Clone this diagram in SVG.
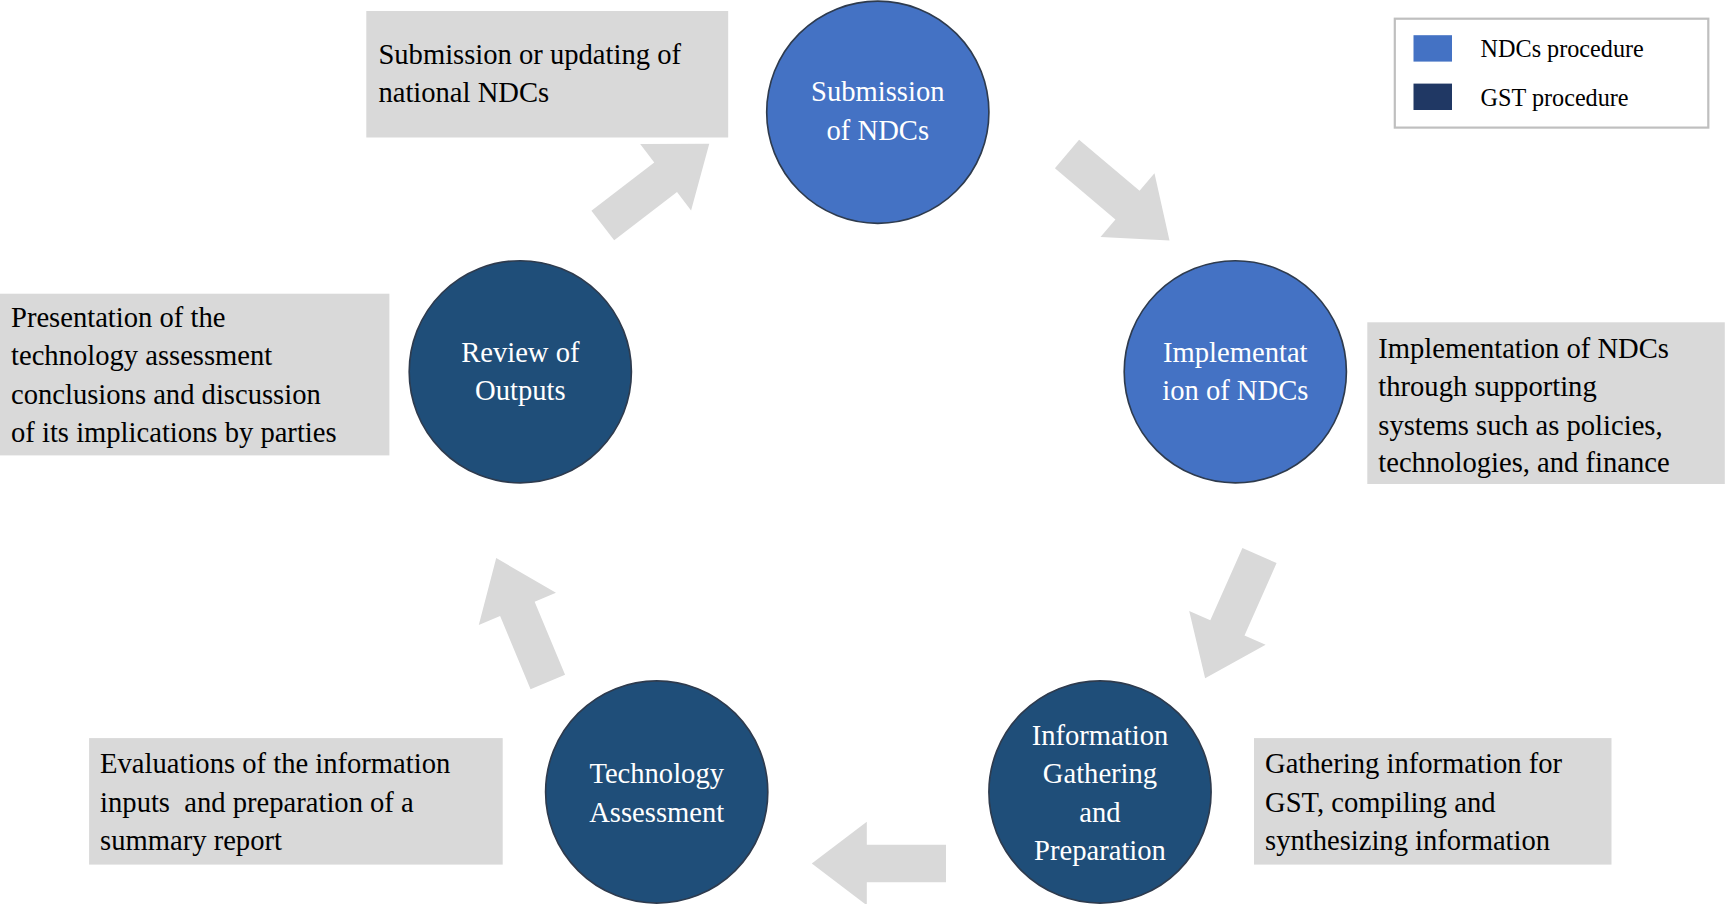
<svg xmlns="http://www.w3.org/2000/svg" width="1725" height="904" viewBox="0 0 1725 904">
<style>
.c{stroke:#2e3b4e;stroke-width:1.5}
.n{fill:#4472C4}.g{fill:#1F4E79}
.b{fill:#D9D9D9}
text{font-family:"Liberation Serif",serif;font-size:26px;fill:#000}
.w{fill:#fff;text-anchor:middle}
.l{font-size:22px}
</style>
<defs><path id="ar" d="M0,-17 L72,-17 L72,-38 L122,0 L72,38 L72,17 L0,17 Z" fill="#D9D9D9"/></defs>
<rect width="1725" height="904" fill="#fff"/>
<g transform="scale(1.1)">
<g id="connectors">
<use href="#ar" transform="translate(548,205) rotate(-37.5)"/>
<use href="#ar" transform="translate(970,140) rotate(40.2)"/>
<use href="#ar" transform="translate(1145,505) rotate(113.9)"/>
<use href="#ar" transform="translate(860,785) rotate(180)"/>
<use href="#ar" transform="translate(498,620) rotate(247.4)"/>
</g>
<g id="n1"><circle class="c n" cx="798" cy="102" r="101"/><text class="w" x="798" y="92">Submission</text><text class="w" x="798" y="127">of NDCs</text></g>
<g id="n2"><circle class="c n" cx="1123" cy="338" r="101"/><text class="w" x="1123" y="329">Implementat</text><text class="w" x="1123" y="364">ion of NDCs</text></g>
<g id="n3"><circle class="c g" cx="1000" cy="720" r="101"/><text class="w" x="1000" y="677">Information</text><text class="w" x="1000" y="712">Gathering</text><text class="w" x="1000" y="747">and</text><text class="w" x="1000" y="782">Preparation</text></g>
<g id="n4"><circle class="c g" cx="597" cy="720" r="101"/><text class="w" x="597" y="712">Technology</text><text class="w" x="597" y="747">Assessment</text></g>
<g id="n5"><circle class="c g" cx="473" cy="338" r="101"/><text class="w" x="473" y="329">Review of</text><text class="w" x="473" y="364">Outputs</text></g>
<g id="b1"><rect class="b" x="333" y="10" width="329" height="115"/><text x="344" y="58">Submission or updating of</text><text x="344" y="93">national NDCs</text></g>
<g id="b2"><rect class="b" x="0" y="267" width="354" height="147"/><text x="10" y="297">Presentation of the</text><text x="10" y="332">technology assessment</text><text x="10" y="367">conclusions and discussion</text><text x="10" y="402">of its implications by parties</text></g>
<g id="b3"><rect class="b" x="1243" y="293" width="325" height="147"/><text x="1253" y="325">Implementation of NDCs</text><text x="1253" y="360">through supporting</text><text x="1253" y="395">systems such as policies,</text><text x="1253" y="429">technologies, and finance</text></g>
<g id="b4"><rect class="b" x="1140" y="671" width="325" height="115"/><text x="1150" y="703">Gathering information for</text><text x="1150" y="738">GST, compiling and</text><text x="1150" y="773">synthesizing information</text></g>
<g id="b5"><rect class="b" x="81" y="671" width="376" height="115"/><text x="91" y="703">Evaluations of the information</text><text x="91" y="738" xml:space="preserve">inputs  and preparation of a</text><text x="91" y="773">summary report</text></g>
<g id="legend"><rect x="1268" y="17" width="285" height="99" fill="#fff" stroke="#bfbfbf" stroke-width="2"/>
<rect x="1285" y="32" width="35" height="24" fill="#4472C4"/><rect x="1285" y="76" width="35" height="24" fill="#203864"/>
<text class="l" x="1346" y="52">NDCs procedure</text><text class="l" x="1346" y="96">GST procedure</text></g>
</g>
</svg>
